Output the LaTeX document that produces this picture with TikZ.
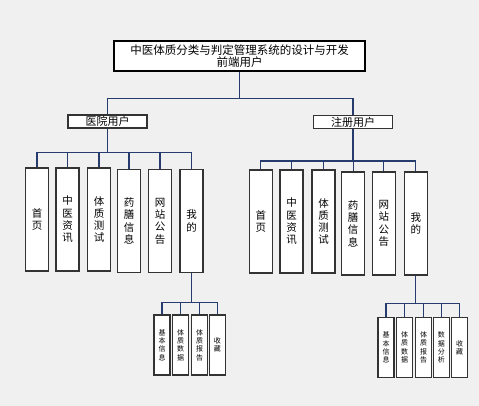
\documentclass[tikz,border=0pt]{standalone}
\usepackage{fontspec}
\setmainfont{Noto Sans CJK SC}
\usetikzlibrary{positioning}

\definecolor{fondo}{RGB}{240,240,240}
\definecolor{linea}{RGB}{38,60,110}

\tikzset{
  conn/.style={draw=linea, line width=1.1pt},
  caja/.style={draw=black!80, line width=1.1pt, fill=white, inner sep=0pt, align=center},
  topbox/.style={caja, draw=black, minimum width=251, minimum height=30, font=\fontsize{11.5}{12}\selectfont},
  userbox/.style={caja, minimum width=79, minimum height=13, font=\fontsize{11}{12}\selectfont},
  menubox/.style={caja, minimum width=23, minimum height=103, font=\fontsize{10.5}{12.3}\selectfont},
  leafbox/.style={caja, minimum width=16, minimum height=60, font=\fontsize{7}{8.3}\selectfont},
}

\begin{document}
\begin{tikzpicture}[x=1pt, y=-1pt]
    % Fondo
    \fill[fondo] (0,0) rectangle (479,406);
    \useasboundingbox (0,0) rectangle (479,406);

    % Raiz y usuarios
    \node[topbox] (top) at (239.5,56) {中医体质分类与判定管理系统的设计与开发\\前端用户};
    \node[userbox] (yy) at (107.5,121.5) {医院用户};
    \node[userbox] (zc) at (353,122) {注册用户};
    \draw[conn] (top.south) -- ++(0,27) -| (yy.north);
    \draw[conn] (top.south) -- ++(0,27) -| (zc.north);

    % Menu del usuario del hospital
    \foreach \x/\y/\t [count=\i] in {37/219.5/{首\\页}, 67.5/219.5/{中\\医\\资\\讯}, 99/219.5/{体\\质\\测\\试},
        129/221/{药\\膳\\信\\息}, 160/221/{网\\站\\公\\告}, 191.5/221/{我\\的}} {
        \node[menubox] (ya\i) at (\x,\y) {\t};
        \draw[conn] (yy.south) -- ++(0,24) -| (ya\i.north);
    }

    % Menu del usuario registrado
    \foreach \x/\y/\t [count=\i] in {260.8/221.5/{首\\页}, 291.5/221.5/{中\\医\\资\\讯}, 323.5/221.5/{体\\质\\测\\试},
        353.2/223.5/{药\\膳\\信\\息}, 383.8/223.5/{网\\站\\公\\告}, 415.8/223.5/{我\\的}} {
        \node[menubox] (zb\i) at (\x,\y) {\t};
        \draw[conn] (zc.south) -- ++(0,32) -| (zb\i.north);
    }

    % Mi cuenta (hospital)
    \foreach \x/\t [count=\i] in {162/{基\\本\\信\\息}, 180.7/{体\\质\\数\\据}, 199.7/{体\\质\\报\\告}, 217.3/{收\\藏}} {
        \node[leafbox] (ym\i) at (\x,345) {\t};
        \draw[conn] (ya6.south) -- ++(0,29) -| (ym\i.north);
    }

    % Mi cuenta (registrado)
    \foreach \x/\t [count=\i] in {386/{基\\本\\信\\息}, 404.7/{体\\质\\数\\据}, 423.7/{体\\质\\报\\告},
        441.3/{数\\据\\分\\析}, 459.7/{收\\藏}} {
        \node[leafbox] (zm\i) at (\x,347.5) {\t};
        \draw[conn] (zb6.south) -- ++(0,28) -| (zm\i.north);
    }
\end{tikzpicture}
\end{document}
